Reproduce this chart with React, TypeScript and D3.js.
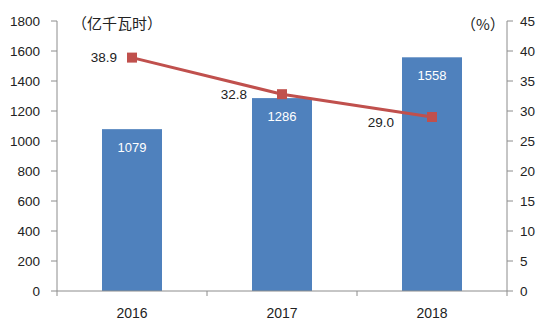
import React from "react";
import * as d3 from "d3";

const categories = ["2016", "2017", "2018"];
const generation = [1079, 1286, 1558];
const shareValues = [38.9, 32.8, 29.0];
const shareLabels = ["38.9", "32.8", "29.0"];
const leftTicks = [0, 200, 400, 600, 800, 1000, 1200, 1400, 1600, 1800];
const rightTicks = [0, 5, 10, 15, 20, 25, 30, 35, 40, 45];
const leftUnit = "（亿千瓦时）";
const rightUnit = "（%）";

const W = 547;
const H = 322;
const M = { left: 57, right: 40, top: 21, bottom: 31 };

export default function App() {
  const x = d3
    .scaleBand<string>()
    .domain(categories)
    .range([M.left, W - M.right])
    .paddingInner(0.6)
    .paddingOuter(0.3);
  const band = d3.scaleBand<string>().domain(categories).range([M.left, W - M.right]);
  const yL = d3.scaleLinear().domain([0, 1800]).range([H - M.bottom, M.top]);
  const yR = d3.scaleLinear().domain([0, 45]).range([H - M.bottom, M.top]);
  const cx = (c: string) => (x(c) as number) + x.bandwidth() / 2;
  const line = d3
    .line<number>()
    .x((_, i) => cx(categories[i]))
    .y((d) => yR(d));
  const axisColor = "#8c8c8c";
  const font = "'Liberation Sans', Arial, sans-serif";
  const labelDx = [-15, -35, -38];
  const labelDy = [4, 5, 10];
  const xRight = W - M.right;
  const y0 = H - M.bottom;

  return (
    <svg width={W} height={H} style={{ position: "absolute", left: 0, top: 0 }} fontFamily={font}>
      <rect x={0} y={0} width={W} height={H} fill="#fff" />
      {/* bars */}
      {categories.map((c, i) => (
        <rect key={c} x={x(c)} y={yL(generation[i])} width={x.bandwidth()} height={y0 - yL(generation[i])} fill="#4F81BD" />
      ))}
      {categories.map((c, i) => (
        <text key={c} x={cx(c)} y={yL(generation[i]) + 23} textAnchor="middle" fill="#fff" fontSize={13}>
          {generation[i]}
        </text>
      ))}
      {/* left axis */}
      <line x1={M.left} x2={M.left} y1={M.top} y2={y0} stroke={axisColor} />
      {leftTicks.map((t) => (
        <g key={t}>
          <line x1={M.left - 6} x2={M.left} y1={yL(t)} y2={yL(t)} stroke={axisColor} />
          <text x={40} y={yL(t) + 5} textAnchor="end" fontSize={13.5} fill="#222">
            {t}
          </text>
        </g>
      ))}
      {/* right axis */}
      <line x1={xRight} x2={xRight} y1={M.top} y2={y0} stroke={axisColor} />
      {rightTicks.map((t) => (
        <g key={t}>
          <line x1={xRight} x2={xRight + 6} y1={yR(t)} y2={yR(t)} stroke={axisColor} />
          <text x={520} y={yR(t) + 5} textAnchor="start" fontSize={13.5} fill="#222">
            {t}
          </text>
        </g>
      ))}
      {/* x axis */}
      <line x1={M.left} x2={xRight} y1={y0} y2={y0} stroke={axisColor} />
      {categories.map((c) => (
        <line key={c} x1={band(c) as number} x2={band(c) as number} y1={y0} y2={y0 + 5} stroke={axisColor} />
      ))}
      <line x1={xRight} x2={xRight} y1={y0} y2={y0 + 5} stroke={axisColor} />
      {categories.map((c) => (
        <text key={c} x={cx(c)} y={318} textAnchor="middle" fontSize={14} fill="#222">
          {c}
        </text>
      ))}
      {/* line series */}
      <path d={line(shareValues) as string} fill="none" stroke="#C0504D" strokeWidth={3} />
      {shareValues.map((v, i) => (
        <rect key={i} x={cx(categories[i]) - 5} y={yR(v) - 5} width={10} height={10} fill="#C0504D" />
      ))}
      {shareValues.map((v, i) => (
        <text key={i} x={cx(categories[i]) + labelDx[i]} y={yR(v) + labelDy[i]} textAnchor="end" fontSize={13.5} fill="#222">
          {shareLabels[i]}
        </text>
      ))}
      {/* units */}
      <text x={72} y={29} fontSize={15} fill="#222" fontFamily="'Noto Sans CJK SC', sans-serif">
        {leftUnit}
      </text>
      <text x={461} y={30} fontSize={15} fill="#222" fontFamily="'Noto Sans CJK SC', sans-serif">
        {rightUnit}
      </text>
    </svg>
  );
}
